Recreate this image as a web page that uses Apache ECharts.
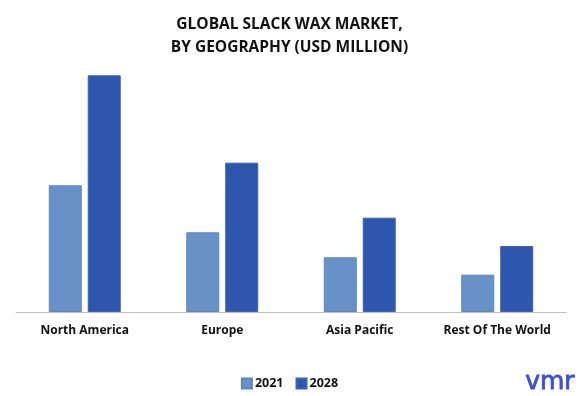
<!DOCTYPE html>
<html><head><meta charset="utf-8">
<script src="https://cdn.jsdelivr.net/npm/echarts@6/dist/echarts.min.js"></script>
<style>html,body{margin:0;padding:0;background:#fff}#c{width:579px;height:396px}</style>
</head><body><div id="c"></div>
<script>
const categories = ['North America', 'Europe', 'Asia Pacific', 'Rest Of The World'];
const seriesNames = ['2021', '2028'];
const values2021 = [126.7, 79.7, 54.7, 37.3];
const values2028 = [236.7, 149.3, 94.3, 66.0];

const chart = echarts.init(document.getElementById('c'));
const font = '"Open Sans", sans-serif';
chart.setOption({
  animation: false,
  title: {
    text: 'GLOBAL SLACK WAX MARKET,\nBY GEOGRAPHY (USD MILLION)',
    left: 'center', top: 8,
    textStyle: {fontFamily: font, fontWeight: 'bold', fontSize: 15.5, color: '#111', lineHeight: 23}
  },
  legend: {
    data: seriesNames, bottom: 1, left: 'center',
    itemWidth: 10, itemHeight: 10, itemGap: 12, icon: 'rect',
    textStyle: {fontFamily: font, fontWeight: 'bold', fontSize: 12.5, color: '#111', padding: [0,0,0,-2]}
  },
  grid: {left: 16, width: 550, top: 62, height: 250},
  xAxis: {
    type: 'category', data: categories,
    axisLine: {lineStyle: {color: '#BFBFBF', width: 1}},
    axisTick: {show: false},
    axisLabel: {interval: 0, fontFamily: font, fontWeight: 'bold', fontSize: 12, color: '#111', margin: 13}
  },
  yAxis: {type: 'value', min: 0, max: 250, show: false, splitLine: {show: false}},
  series: [
    {name: '2021', type: 'bar', data: values2021, barWidth: 33, barGap: '18%',
     itemStyle: {color: '#6892C7', borderColor: '#5A86C4', borderWidth: 1}},
    {name: '2028', type: 'bar', data: values2028, barWidth: 33,
     itemStyle: {color: '#2D56AC', borderColor: '#3A62B8', borderWidth: 1}}
  ],
  graphic: [{
    type: 'text', right: 4, bottom: 1,
    style: {text: 'vmr', fontFamily: '"DejaVu Sans", sans-serif', fontSize: 25, fontWeight: 'normal', fill: '#3D4FD6', stroke: '#3D4FD6', lineWidth: 0.8}
  }]
});
</script></body></html>
